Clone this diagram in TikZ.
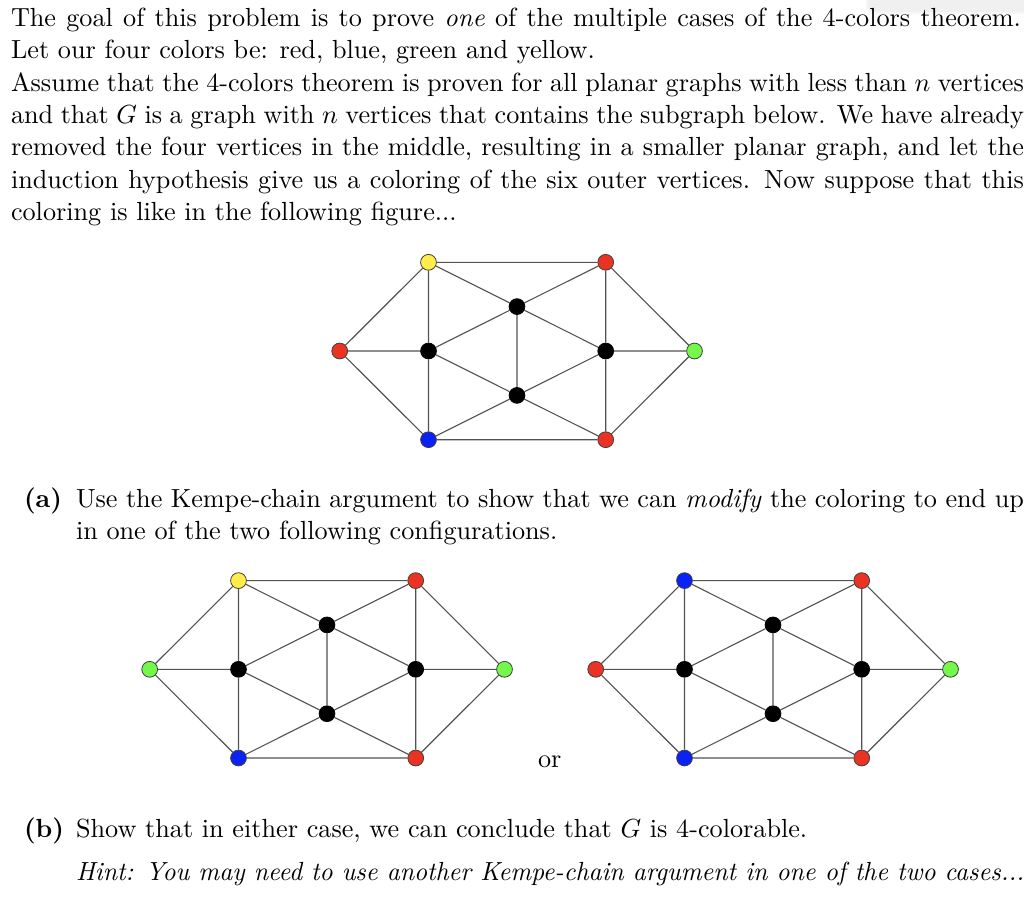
\documentclass[tikz,border=0pt]{standalone}
\usepackage{graphicx}
\tikzset{
  txt/.style={anchor=base west,inner sep=0pt,outer sep=0pt},
  vtx/.style={circle,draw=black!75,line width=0.8pt,minimum size=15.8pt,inner sep=0pt},
  mid/.style={vtx,fill=black,draw=black},
  edge/.style={draw=black!68,line width=1.1pt}
}
\definecolor{kred}{HTML}{EA3323}
\definecolor{kblue}{HTML}{0A22F5}
\definecolor{kgreen}{HTML}{74F84A}
\definecolor{kyellow}{HTML}{FFEE4A}
\newcommand{\tx}[1]{\scalebox{2.62}{#1}}
\newcommand{\jl}[2]{\scalebox{2.62}{\makebox[#1pt][s]{#2}}}
\newcommand{\kgraph}[6]{%
\begin{scope}[shift={(#2,#3)},name prefix=#1-]
  \node[vtx,fill=#4] (tl) at (-88.5,-88.7) {};
  \node[vtx,fill=kred] (tr) at (88.7,-88.7) {};
  \node[vtx,fill=#5] (l) at (-177.3,0) {};
  \node[vtx,fill=kgreen] (r) at (177.5,0) {};
  \node[vtx,fill=#6] (bl) at (-88.5,88.7) {};
  \node[vtx,fill=kred] (br) at (88.7,88.7) {};
  \node[mid] (ml) at (-88.5,0) {};
  \node[mid] (mr) at (88.7,0) {};
  \node[mid] (t) at (0,-44.4) {};
  \node[mid] (b) at (0,44.4) {};
  \draw[edge] (tl)--(tr) (tr)--(r) (r)--(br) (br)--(bl) (bl)--(l) (l)--(tl)
    (tl)--(ml) (ml)--(bl) (tr)--(mr) (mr)--(br) (l)--(ml) (mr)--(r)
    (tl)--(t) (t)--(tr) (ml)--(t) (t)--(mr) (t)--(b)
    (ml)--(b) (b)--(mr) (bl)--(b) (b)--(br);
\end{scope}}
\begin{document}
\begin{tikzpicture}[x=1pt,y=-1pt]
\useasboundingbox (0,0) rectangle (1024,896);
\fill[white] (0,0) rectangle (1024,896);
% grey tab at the top right
\fill[black!3,rounded corners=8pt] (866,-20) rectangle (1040,14);
\fill[black!6,rounded corners=6pt] (868,-20) rectangle (1040,12);
% text
\node[txt] (l1) at (11,27) {\jl{385.5}{The goal of this problem is to prove \textit{one} of the multiple cases of the 4-colors theorem.}};
\node[txt] (l2) at (11,59) {\tx{Let our four colors be: red, blue, green and yellow.}};
\node[txt] (l3) at (11,91.5) {\jl{386.6}{Assume that the 4-colors theorem is proven for all planar graphs with less than $n$ vertices}};
\node[txt] (l4) at (11,124) {\jl{386.6}{and that $G$ is a graph with $n$ vertices that contains the subgraph below. We have already}};
\node[txt] (l5) at (11,156) {\jl{386.6}{removed the four vertices in the middle, resulting in a smaller planar graph, and let the}};
\node[txt] (l6) at (11,188) {\jl{386.6}{induction hypothesis give us a coloring of the six outer vertices. Now suppose that this}};
\node[txt] (l7) at (11,220) {\tx{coloring is like in the following figure...}};
\node[txt] (al) at (24,507) {\tx{\textbf{(a)}}};
\node[txt] (a1) at (76,507) {\jl{361.8}{Use the Kempe-chain argument to show that we can \textit{modify} the coloring to end up}};
\node[txt] (a2) at (76,539) {\tx{in one of the two following configurations.}};
\node[txt] (or) at (538,767) {\tx{or}};
\node[txt] (bl) at (24,837) {\tx{\textbf{(b)}}};
\node[txt] (b1) at (76,837) {\tx{Show that in either case, we can conclude that $G$ is 4-colorable.}};
\node[txt] (b2) at (76,880) {\scalebox{2.55}[2.62]{\textit{Hint: You may need to use another Kempe-chain argument in one of the two cases...}}};
% graphs
\kgraph{g0}{517}{351}{kyellow}{kred}{kblue}
\kgraph{ga}{327}{669.3}{kyellow}{kgreen}{kblue}
\kgraph{gb}{773}{669.3}{kblue}{kred}{kblue}
\end{tikzpicture}
\end{document}
